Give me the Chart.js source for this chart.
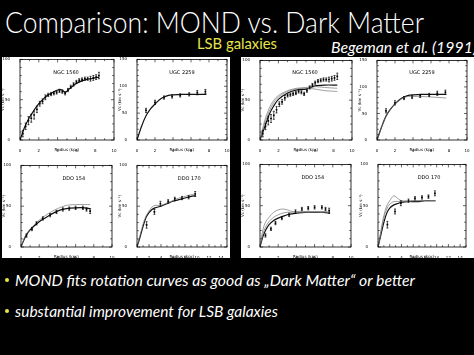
<!DOCTYPE html>
<html><head><meta charset="utf-8">
<script src="https://cdn.jsdelivr.net/npm/chart.js@4.4.1/dist/chart.umd.min.js"></script>
<style>
html,body{margin:0;padding:0;background:#000;}
#stage{position:relative;width:474px;height:355px;overflow:hidden;background:#000;}
.blk{position:absolute;background:#fff;}
canvas{position:absolute;}
.t{position:absolute;white-space:nowrap;font-family:Lato,"Open Sans",sans-serif;font-weight:400;color:#fff;transform-origin:0 0;line-height:1;}
.dot{position:absolute;width:4px;height:4px;border-radius:2px;background:#e8e84a;}
</style></head><body><div id="stage">
<div class="blk" style="left:2px;top:57px;width:228px;height:201px"></div>
<div class="blk" style="left:241px;top:57px;width:233px;height:201px"></div>
<canvas id="c1"></canvas><canvas id="c2"></canvas><canvas id="c3"></canvas><canvas id="c4"></canvas>
<canvas id="c5"></canvas><canvas id="c6"></canvas><canvas id="c7"></canvas><canvas id="c8"></canvas>
<div class="t" data-w="419" style="left:5px;top:6px;font-size:30px;font-weight:300;">Comparison: MOND vs. Dark Matter</div>
<div class="t" data-w="80" style="left:197px;top:36px;font-size:15px;color:#e6e64a;">LSB galaxies</div>
<div class="t" data-w="146" style="left:331px;top:40px;font-size:15px;font-style:italic;">Begeman et al. (1991)</div>
<div class="dot" style="left:5px;top:278px"></div>
<div class="t" data-w="400" style="left:15px;top:272px;font-size:16px;font-style:italic;">MOND fits rotation curves as good as „Dark Matter“ or better</div>
<div class="dot" style="left:5px;top:309px"></div>
<div class="t" data-w="263" style="left:15px;top:303px;font-size:16px;font-style:italic;">substantial improvement for LSB galaxies</div>
</div>
<script>
// ---------- data ----------
// NGC 1560 observed
const ngcR   = [0.3,0.6,0.9,1.2,1.5,1.8,2.1,2.4,2.7,3.0,3.3,3.6,3.9,4.2,4.5,4.8,5.1,5.4,5.7,6.0,6.3,6.6,6.9,7.2,7.5,7.8,8.1,8.4];
const ngcV   = [8,17,24,27,31,38,45,48,53,56,57,58,59,61,60,58,62,66,69,72,74,75,76,76,76,77,78,80];
const ngcErr = [4,4,5,5,5,4,3,3,3,2,2,2,2,2,2,2,2,2,2,2,2,2,2,2,3,3,3,4];
const ngcMondR = [0,0.5,1,1.5,2,2.5,3,3.5,4,4.5,4.8,5.2,6,6.5,7,7.5,8,8.4];
const ngcMondV = [0,16,28,37,45,51,56,59,62,62,59,63,70,73,75,76,77,78];
const ngcDmR  = [0,0.5,1,1.5,2,3,4,5,6,7,8.4];
const ngcDmA  = [0,24,40,50,56,62,65,66,67,66,65];
const ngcDmB  = [0,16,32,43,51,59,63,64,68,69,69];
const ngcDmC  = [0,20,36,47,54,61,64,65,64,62,61];
// UGC 2259 observed
const ugcR   = [1,2,3,3.9,4.8,5.8,6.7,7.6];
const ugcV   = [55,70,79,81,83,85,88,90];
const ugcErr = [4,4,3,3,3,3,4,4];
const ugcCurR = [0,0.5,1,1.5,2,2.5,3,3.5,4,5,6,7,7.7];
const ugcMond = [0,25,45,58,67,75,80,83,84,85,85,85,85];
const ugcDmA  = [0,24,45,58,68,76,81,84,85,86,86,86,86];
const ugcDmB  = [0,24,45,58,68,75,80,82,82,82,81,80,79];
// DDO 154 observed
const d154R   = [0.6,1.2,1.7,2.4,3.2,3.9,4.6,5.3,6.0,6.8,7.2,7.6];
const d154V   = [14,22,29,35,39,43,46,47,48,48,46,44];
const d154Err = [2,2,2,2,2,2,2,2,2,2,2,3];
const d154MondR = [0,0.5,1,2,3,4,5,6,7,7.6];
const d154MondA = [0,13,21,31,38,44,47,48,48,47];
const d154MondB = [0,14,22,33,41,47,51,52,52,52];
const d154DmR = [0,0.3,0.6,1,1.5,2,2.5,3,3.5,4,5,6,7,7.7];
const d154DmA = [0,20,30,36,42,45,46,45,43,42,42,42,42,42];
const d154DmB = [0,15,24,31,36,39,41,42,42,43,43,43,43,42];
const d154DmC = [0,12,20,27,32,35,37,39,40,41,42,42,42,41];
// DDO 170 observed
const d170R   = [1.6,2.9,3.9,5.2,6.3,7.5,8.6,9.7];
const d170V   = [27,43,53,56,59,60,61,65];
const d170Err = [4,3,3,2,2,2,2,3];
const d170MondR = [0,0.5,1,1.5,2,2.5,3,4,5,6,7,8,9,9.8];
const d170MondA = [0,12,25,36,42,46,48,50,53,56,58,60,62,63];
const d170MondB = [0,14,28,38,44,49,51,51,54,57,60,62,64,65];
const d170DmR = [0,0.5,1,1.5,2,2.7,3.5,4,5,6,7,8,9,9.8];
const d170DmA = [0,20,38,50,56,62,58,56,56,56,56,56,56,56];
const d170DmB = [0,18,35,46,52,55,55,55,55,56,56,56,56,56];
const d170DmC = [0,15,30,41,47,51,53,54,55,55,55,56,56,56];

const xTicksA = [0,2,4,6,8,10];
const xTicksB = [0,2,4,6,8,10,12,14];

// ---------- helpers ----------
const pts = (xs, ys) => xs.map((x,i)=>({x, y: ys[i]}));
const thick = (xs, ys) => ({data: pts(xs,ys), showLine:true, pointRadius:0, borderColor:'#111', borderWidth:1.2, tension:0.3});
const thin  = (xs, ys) => ({data: pts(xs,ys), showLine:true, pointRadius:0, borderColor:'#777', borderWidth:0.7, tension:0.3});
const obs = (xs, ys, err) => ({data: pts(xs,ys), errors: err, showLine:false, pointStyle:'rect', pointRadius:1.2, backgroundColor:'#000', borderColor:'#000', borderWidth:0});

const framePlugin = {
  id:'frame',
  afterDatasetsDraw(chart, args, opts){
    const {ctx, chartArea:a, scales:{x, y}} = chart;
    ctx.save();
    ctx.strokeStyle = '#000'; ctx.lineWidth = 0.7;
    chart.data.datasets.forEach((ds) => {
      if (!ds.errors) return;
      ds.data.forEach((p, i) => {
        const px = x.getPixelForValue(p.x);
        const y1 = y.getPixelForValue(p.y - ds.errors[i]), y2 = y.getPixelForValue(p.y + ds.errors[i]);
        ctx.beginPath(); ctx.moveTo(px, y1); ctx.lineTo(px, y2);
        ctx.moveTo(px-1, y1); ctx.lineTo(px+1, y1); ctx.moveTo(px-1, y2); ctx.lineTo(px+1, y2);
        ctx.stroke();
      });
    });
    ctx.lineWidth = 0.8;
    ctx.strokeRect(a.left, a.top, a.right - a.left, a.bottom - a.top);
    ctx.lineWidth = 0.6;
    for (let v = x.min; v <= x.max + 1e-9; v += 1) {
      const px = x.getPixelForValue(v), len = (v % 2 === 0) ? 3 : 1.8;
      ctx.beginPath();
      ctx.moveTo(px, a.bottom); ctx.lineTo(px, a.bottom - len);
      ctx.moveTo(px, a.top); ctx.lineTo(px, a.top + len);
      ctx.stroke();
    }
    for (let v = y.min; v <= y.max + 1e-9; v += 10) {
      const py = y.getPixelForValue(v), len = (v % 50 === 0) ? 3 : 1.8;
      ctx.beginPath();
      ctx.moveTo(a.left, py); ctx.lineTo(a.left + len, py);
      ctx.moveTo(a.right, py); ctx.lineTo(a.right - len, py);
      ctx.stroke();
    }
    ctx.fillStyle = '#000';
    ctx.font = '5px "DejaVu Sans", sans-serif';
    ctx.textAlign = 'center'; ctx.textBaseline = 'middle';
    ctx.fillText(opts.label, a.left + (a.right - a.left) * opts.fx, a.top + (a.bottom - a.top) * 0.16);
    ctx.restore();
  }
};

function makePanel(id, rect, label, fx, xMax, yMax, xTicks, datasets){
  const [L,T,R,B] = rect;
  const yw = 19, xh = 12, pt = 4, pr = 3;
  const cv = document.getElementById(id);
  cv.width = R - L + yw + pr; cv.height = B - T + pt + xh;
  cv.style.left = (L - yw) + 'px'; cv.style.top = (T - pt) + 'px';
  cv.style.width = cv.width + 'px'; cv.style.height = cv.height + 'px';
  const tickFont = {size:4, family:'"DejaVu Sans", sans-serif'};
  new Chart(cv, {
    type:'scatter',
    data:{datasets},
    options:{
      responsive:false, animation:false, devicePixelRatio:1,
      layout:{padding:{top:pt, right:pr, left:0, bottom:0}},
      plugins:{legend:{display:false}, tooltip:{enabled:false}, frame:{label, fx}},
      scales:{
        x:{type:'linear', min:0, max:xMax,
           afterBuildTicks: s => { s.ticks = xTicks.map(v=>({value:v})); },
           ticks:{font:tickFont, color:'#000', padding:1, autoSkip:false, maxRotation:0},
           grid:{display:false}, border:{display:false},
           title:{display:true, text:'Radius (kpc)', font:tickFont, color:'#000', padding:{top:0,bottom:0}},
           afterFit: s => { s.height = xh; }},
        y:{type:'linear', min:0, max:yMax,
           ticks:{stepSize:50, font:tickFont, color:'#000', padding:2, autoSkip:false},
           grid:{display:false}, border:{display:false},
           title:{display:true, text:'Vc (km s⁻¹)', font:tickFont, color:'#000', padding:{top:0,bottom:1}},
           afterFit: s => { s.width = yw; }}
      }
    },
    plugins:[framePlugin]
  });
}

makePanel('c1', [20,59,115,140], 'NGC 1560', 0.49, 10, 100, xTicksA,
  [thick(ngcMondR, ngcMondV), obs(ngcR, ngcV, ngcErr)]);
makePanel('c2', [137,59,228,140], 'UGC 2259', 0.5, 10, 150, xTicksA,
  [thick(ugcCurR, ugcMond), obs(ugcR, ugcV, ugcErr)]);
makePanel('c3', [21,165,113,247], 'DDO 154', 0.58, 10, 100, xTicksA,
  [thin(d154MondR, d154MondB), thick(d154MondR, d154MondA), obs(d154R, d154V, d154Err)]);
makePanel('c4', [137,165,228,247], 'DDO 170', 0.58, 15, 100, xTicksB,
  [thin(d170MondR, d170MondB), thick(d170MondR, d170MondA), obs(d170R, d170V, d170Err)]);
makePanel('c5', [260,60,353,140], 'NGC 1560', 0.49, 10, 100, xTicksA,
  [thin(ngcDmR, ngcDmA), thin(ngcDmR, ngcDmC), thick(ngcDmR, ngcDmB), obs(ngcR, ngcV, ngcErr)]);
makePanel('c6', [377,60,468,140], 'UGC 2259', 0.5, 10, 150, xTicksA,
  [thin(ugcCurR, ugcDmB), thick(ugcCurR, ugcDmA), obs(ugcR, ugcV, ugcErr)]);
makePanel('c7', [260,164,352,247], 'DDO 154', 0.58, 10, 100, xTicksA,
  [thin(d154DmR, d154DmA), thin(d154DmR, d154DmB), thick(d154DmR, d154DmC), obs(d154R, d154V, d154Err)]);
makePanel('c8', [378,164,467,247], 'DDO 170', 0.58, 15, 100, xTicksB,
  [thin(d170DmR, d170DmA), thin(d170DmR, d170DmB), thick(d170DmR, d170DmC), obs(d170R, d170V, d170Err)]);

document.querySelectorAll('.t').forEach(el => {
  const w = +el.dataset.w, r = el.getBoundingClientRect().width;
  if (r > 0) el.style.transform = 'scaleX(' + (w / r) + ')';
});
</script>
</body></html>
